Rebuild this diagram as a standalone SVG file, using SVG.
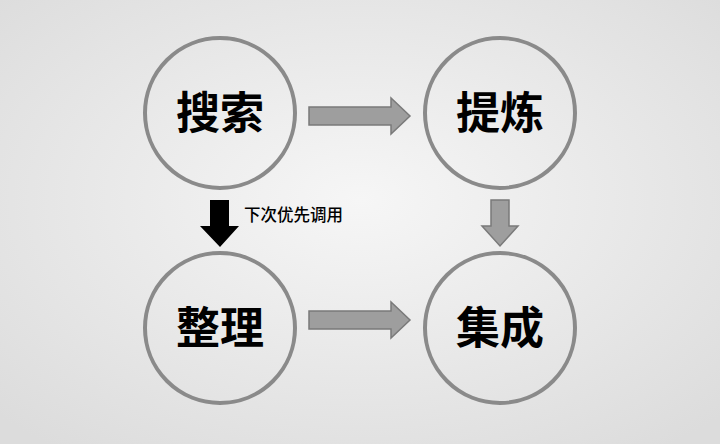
<svg xmlns="http://www.w3.org/2000/svg" width="720" height="444" viewBox="0 0 720 444">
<defs>
<radialGradient id="bg" cx="50%" cy="45%" r="70%"><stop offset="0" stop-color="#f6f6f6"/><stop offset="1" stop-color="#dcdcdc"/></radialGradient>
<style>
.c{fill:none;stroke:#8a8a8a;stroke-width:4}
.t{font-family:"Noto Sans CJK SC",sans-serif;font-weight:bold;font-size:44px;text-anchor:middle;fill:#000}
.ga{fill:#9e9e9e;stroke:#7a7a7a;stroke-width:1.5}
</style>
</defs>
<rect width="720" height="444" fill="url(#bg)"/>
<g id="n1"><circle class="c" cx="220" cy="113" r="75"/><text class="t" x="220" y="129">搜索</text></g>
<g id="n2"><circle class="c" cx="500" cy="113" r="75"/><text class="t" x="500" y="129">提炼</text></g>
<g id="n3"><circle class="c" cx="220" cy="328" r="75"/><text class="t" x="220" y="344">整理</text></g>
<g id="n4"><circle class="c" cx="500" cy="328" r="75"/><text class="t" x="500" y="344">集成</text></g>
<g id="connectors">
<path class="ga" d="M309,107H391V98L410,116L391,134V125H309Z"/>
<path class="ga" d="M309,311H391V302L410,320L391,338V329H309Z"/>
<path class="ga" d="M491,200H509V226H518L500,246L482,226H491Z"/>
<path fill="#000" d="M210,200H229V226H239L220,247L200,226H210Z"/>
<text x="244" y="221" font-family="Noto Sans CJK SC,sans-serif" font-size="16.5" font-weight="500" fill="#000">下次优先调用</text>
</g>
</svg>
